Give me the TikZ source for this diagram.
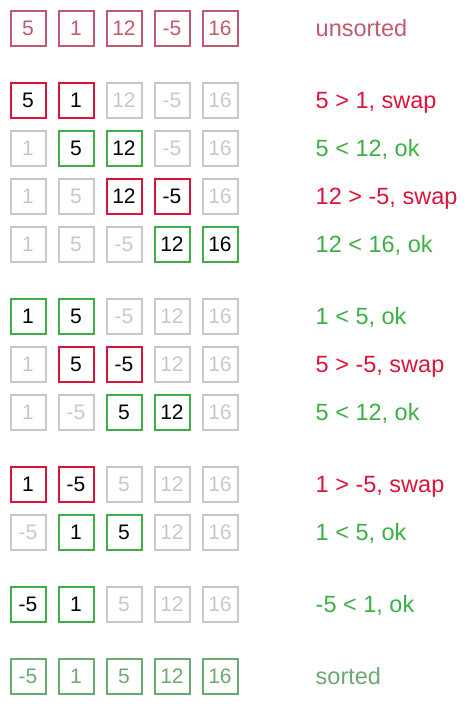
\documentclass[tikz,border=0pt]{standalone}
\usepackage{fontspec}
\setmainfont{Liberation Sans}
\usepackage{xcolor}
\usetikzlibrary{positioning}

\definecolor{unsortedcol}{RGB}{192,90,110}
\definecolor{swapcol}{RGB}{220,20,60}
\definecolor{okcol}{RGB}{60,176,70}
\definecolor{sortedcol}{RGB}{106,170,112}
\definecolor{idlecol}{RGB}{200,200,200}

\begin{document}
\begin{tikzpicture}
		[cell/.style={rectangle,line width=2pt,inner sep=0pt,outer sep=0pt,minimum size=35pt,
			font=\fontsize{21}{25}\selectfont,text height=15pt,text depth=0pt},
		unsorted/.style={cell,draw=unsortedcol,text=unsortedcol},
		swap/.style={cell,draw=swapcol,text=black},
		ok/.style={cell,draw=okcol,text=black},
		idle/.style={cell,draw=idlecol,text=idlecol},
		sorted/.style={cell,draw=sortedcol,text=sortedcol},
		note/.style={inner sep=0pt,font=\fontsize{23.5}{28}\selectfont,text height=16.8pt,text depth=0pt}]
		\useasboundingbox (0,0) rectangle (468pt,-704pt);

		% unsorted
		\node [unsorted] (a1) at (28pt,-28pt) {5};
		\node [unsorted] (a2) [right=13pt of a1]{1};
		\node [unsorted] (a3) [right=13pt of a2]{12};
		\node [unsorted] (a4) [right=13pt of a3]{-5};
		\node [unsorted] (a5) [right=13pt of a4]{16};
		\node [note,text=unsortedcol] (la) [right=78pt of a5]{unsorted};

		% first pass
		\node [swap] (b1) [below=37pt of a1]{5};
		\node [swap] (b2) [right=13pt of b1]{1};
		\node [idle] (b3) [right=13pt of b2]{12};
		\node [idle] (b4) [right=13pt of b3]{-5};
		\node [idle] (b5) [right=13pt of b4]{16};
		\node [note,text=swapcol] (lb) [right=78pt of b5]{5 > 1, swap};

		\node [idle] (c1) [below=13pt of b1]{1};
		\node [ok] (c2) [right=13pt of c1]{5};
		\node [ok] (c3) [right=13pt of c2]{12};
		\node [idle] (c4) [right=13pt of c3]{-5};
		\node [idle] (c5) [right=13pt of c4]{16};
		\node [note,text=okcol] (lc) [right=78pt of c5]{5 < 12, ok};

		\node [idle] (d1) [below=13pt of c1]{1};
		\node [idle] (d2) [right=13pt of d1]{5};
		\node [swap] (d3) [right=13pt of d2]{12};
		\node [swap] (d4) [right=13pt of d3]{-5};
		\node [idle] (d5) [right=13pt of d4]{16};
		\node [note,text=swapcol] (ld) [right=78pt of d5]{12 > -5, swap};

		\node [idle] (e1) [below=13pt of d1]{1};
		\node [idle] (e2) [right=13pt of e1]{5};
		\node [idle] (e3) [right=13pt of e2]{-5};
		\node [ok] (e4) [right=13pt of e3]{12};
		\node [ok] (e5) [right=13pt of e4]{16};
		\node [note,text=okcol] (le) [right=78pt of e5]{12 < 16, ok};

		% second pass
		\node [ok] (f1) [below=37pt of e1]{1};
		\node [ok] (f2) [right=13pt of f1]{5};
		\node [idle] (f3) [right=13pt of f2]{-5};
		\node [idle] (f4) [right=13pt of f3]{12};
		\node [idle] (f5) [right=13pt of f4]{16};
		\node [note,text=okcol] (lf) [right=78pt of f5]{1 < 5, ok};

		\node [idle] (g1) [below=13pt of f1]{1};
		\node [swap] (g2) [right=13pt of g1]{5};
		\node [swap] (g3) [right=13pt of g2]{-5};
		\node [idle] (g4) [right=13pt of g3]{12};
		\node [idle] (g5) [right=13pt of g4]{16};
		\node [note,text=swapcol] (lg) [right=78pt of g5]{5 > -5, swap};

		\node [idle] (h1) [below=13pt of g1]{1};
		\node [idle] (h2) [right=13pt of h1]{-5};
		\node [ok] (h3) [right=13pt of h2]{5};
		\node [ok] (h4) [right=13pt of h3]{12};
		\node [idle] (h5) [right=13pt of h4]{16};
		\node [note,text=okcol] (lh) [right=78pt of h5]{5 < 12, ok};

		% third pass
		\node [swap] (i1) [below=37pt of h1]{1};
		\node [swap] (i2) [right=13pt of i1]{-5};
		\node [idle] (i3) [right=13pt of i2]{5};
		\node [idle] (i4) [right=13pt of i3]{12};
		\node [idle] (i5) [right=13pt of i4]{16};
		\node [note,text=swapcol] (li) [right=78pt of i5]{1 > -5, swap};

		\node [idle] (j1) [below=13pt of i1]{-5};
		\node [ok] (j2) [right=13pt of j1]{1};
		\node [ok] (j3) [right=13pt of j2]{5};
		\node [idle] (j4) [right=13pt of j3]{12};
		\node [idle] (j5) [right=13pt of j4]{16};
		\node [note,text=okcol] (lj) [right=78pt of j5]{1 < 5, ok};

		% fourth pass
		\node [ok] (k1) [below=37pt of j1]{-5};
		\node [ok] (k2) [right=13pt of k1]{1};
		\node [idle] (k3) [right=13pt of k2]{5};
		\node [idle] (k4) [right=13pt of k3]{12};
		\node [idle] (k5) [right=13pt of k4]{16};
		\node [note,text=okcol] (lk) [right=78pt of k5]{-5 < 1, ok};

		% sorted
		\node [sorted] (l1) [below=37pt of k1]{-5};
		\node [sorted] (l2) [right=13pt of l1]{1};
		\node [sorted] (l3) [right=13pt of l2]{5};
		\node [sorted] (l4) [right=13pt of l3]{12};
		\node [sorted] (l5) [right=13pt of l4]{16};
		\node [note,text=sortedcol] (ll) [right=78pt of l5]{sorted};

	\end{tikzpicture}
\end{document}
